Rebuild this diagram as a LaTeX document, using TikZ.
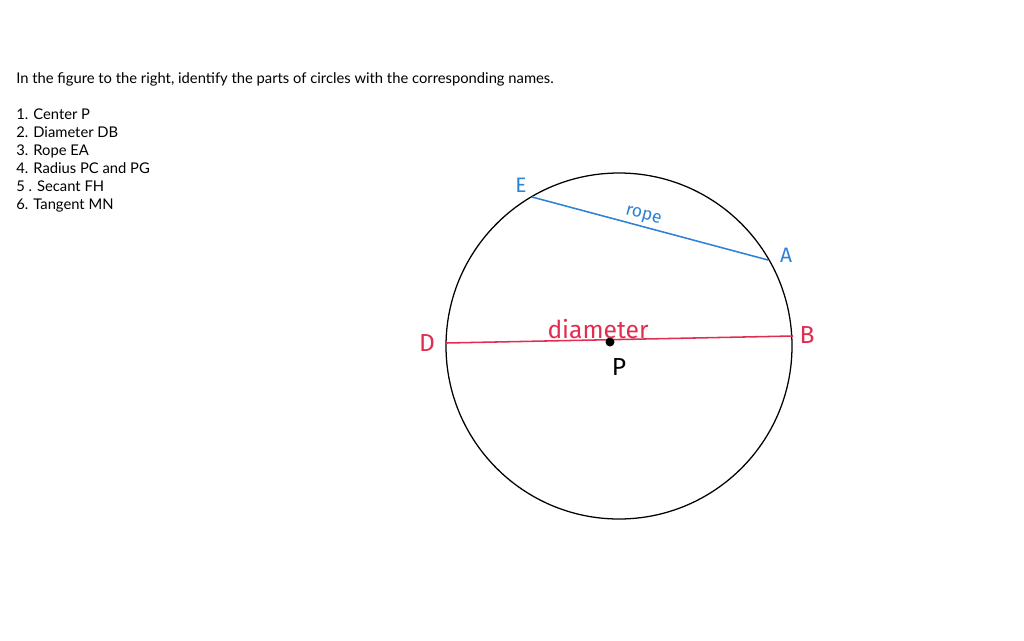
\documentclass[tikz,border=0pt]{standalone}
\usepackage{fontspec}
\setmainfont{Lato}
\newfontfamily\handfont{Fira Sans}
\definecolor{ropeblue}{RGB}{45,130,215}
\definecolor{diamred}{RGB}{225,45,80}
\tikzset{
  txt/.style={anchor=base west, inner sep=0pt, font=\fontsize{10.5}{12}\selectfont},
  hand/.style={inner sep=0pt, font=\handfont\fontsize{12.5}{15}\selectfont},
  bighand/.style={inner sep=0pt, font=\handfont\fontsize{17.5}{20}\selectfont}
}
\begin{document}
\begin{tikzpicture}[x=0.025cm, y=-0.025cm]
    \useasboundingbox (0, 0) rectangle (1024, 640);

    \node[txt] (title) at (16, 83) {In the figure to the right, identify the parts of circles with the corresponding names.};
    \node[txt] (l1) at (16, 119) {1. Center P};
    \node[txt] (l2) at (16, 137) {2. Diameter DB};
    \node[txt] (l3) at (16, 155) {3. Rope EA};
    \node[txt] (l4) at (16, 173) {4. Radius PC and PG};
    \node[txt] (l5) at (16, 191) {5 . Secant FH};
    \node[txt] (l6) at (16, 209) {6. Tangent MN};

    \coordinate (p) at (619, 346);
    \draw[line width=0.9pt] (p) circle (173);

    \coordinate (e) at (532, 197);
    \coordinate (a) at (768, 260);
    \coordinate (d) at (446, 343);
    \coordinate (b) at (793, 336);
    \coordinate (pdot) at (610, 342);

    \draw[ropeblue, line width=1.1pt] (e) -- (a) node[pos=0.46, above, sloped, hand, yshift=2pt] {rope};
    \draw[diamred, line width=1.1pt] (d) -- (b);
    \fill (pdot) circle (4.5);

    \node[bighand, ropeblue, scale=0.85] (e_lbl) at (521, 185) {E};
    \node[bighand, ropeblue, scale=0.85] (a_lbl) at (786, 255) {A};
    \node[bighand, diamred] (d_lbl) at (427, 343) {D};
    \node[bighand, diamred] (b_lbl) at (807, 335) {B};
    \node[bighand, diamred] (diam) at (598, 329) {diameter};
    \node[bighand] (p_lbl) at (619, 367) {P};
\end{tikzpicture}
\end{document}
